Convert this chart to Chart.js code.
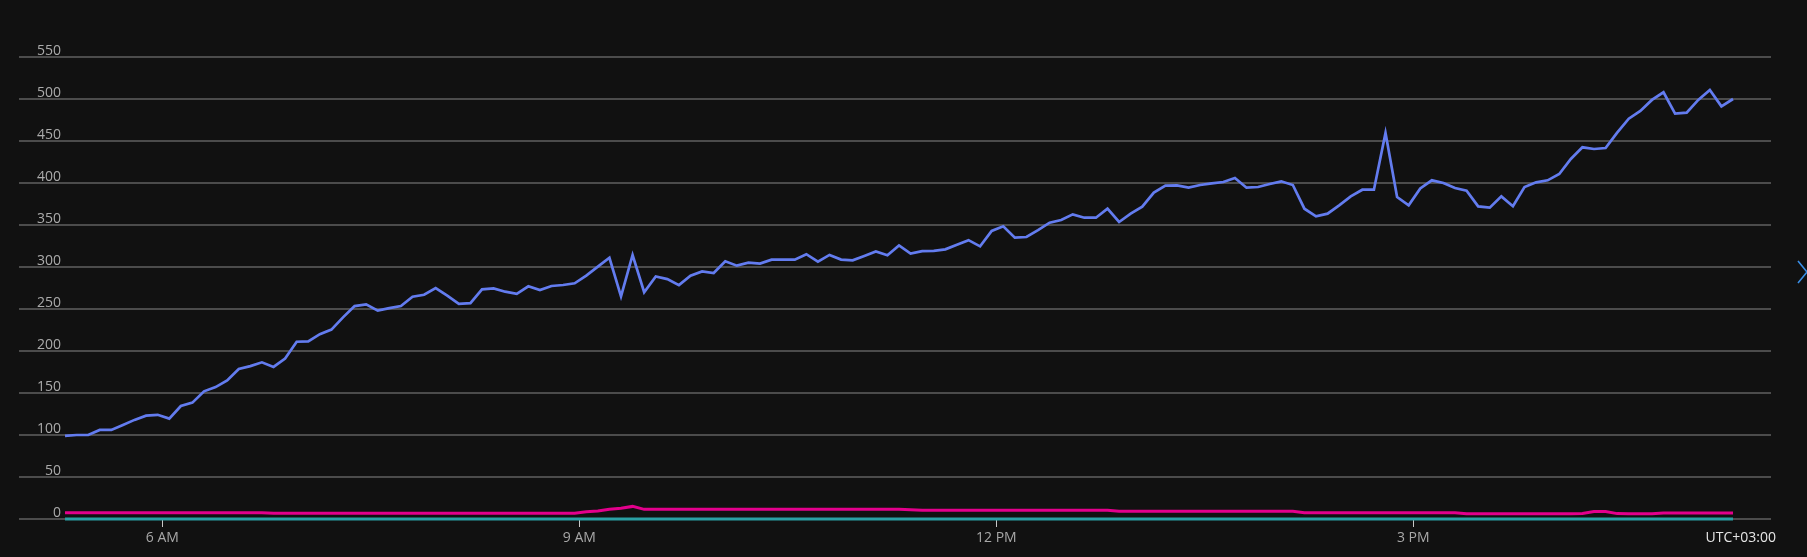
<!DOCTYPE html>
<html>
<head>
<meta charset="utf-8">
<script src="https://cdn.jsdelivr.net/npm/chart.js@4/dist/chart.umd.min.js"></script>
<style>
  html, body { margin: 0; padding: 0; background: #111111; }
  #wrap { position: relative; width: 1807px; height: 557px; background: #111111; overflow: hidden; }
  #c { position: absolute; left: 0; top: 0; }
  #tz { position: absolute; right: 31px; top: 527px; font-family: "Open Sans", "Noto Sans", sans-serif; font-size: 14px; line-height: 20px; color: #e6e6e6; }
  #chev { position: absolute; left: 1795px; top: 258px; }
</style>
</head>
<body>
<div id="wrap">
  <canvas id="c" width="1807" height="557"></canvas>
  <div id="tz">UTC+03:00</div>
  <svg id="chev" width="12" height="28" viewBox="0 0 12 28"><polyline points="3,3 12,14 3,25" fill="none" stroke="#3a8ee6" stroke-width="1.6"/></svg>
</div>
<script>
// Time grid: first sample at 05:18, one sample every 5 minutes (minutes since midnight)
const startMinute = 318;
const stepMinutes = 5;

// Series values
const seriesBlue = [
  99, 100, 100, 106, 106, 112, 118, 123, 124, 119.5,
  134.5, 138.5, 152, 157, 165, 178.6, 182, 186.5, 181, 191,
  211, 211.5, 220, 225.5, 240, 253.5, 255.6, 248, 251, 253.6,
  264.7, 267, 275, 266, 256, 257, 273.4, 274.6, 270.6, 268,
  277, 272.6, 277.4, 278.6, 280.6, 289.7, 300.4, 311, 265, 314.3,
  270, 288.8, 285.6, 278.4, 289.6, 294.8, 292.8, 306.8, 301.6, 305.2,
  304, 308.8, 308.8, 308.8, 315.2, 306.4, 314.4, 308.8, 308, 313.2,
  318.4, 314, 325.6, 316, 318.8, 319.2, 321, 326.6, 332, 324.6,
  342.9, 348.4, 335, 335.7, 344, 352.8, 356, 362.7, 358.7, 358.7,
  369.5, 353.6, 363.5, 371.8, 388.5, 396.8, 397.2, 394.5, 397.6, 399.6,
  401.2, 406, 394.4, 395.2, 398.8, 402, 397.6, 369.4, 360.3, 363.5,
  373.4, 384.1, 392, 392, 459.6, 383.3, 373.4, 393.6, 403.2, 400,
  394, 390.9, 372.2, 370.6, 384.1, 372.4, 395.2, 400.8, 403.2, 410.7,
  428.6, 442.5, 440.5, 441.7, 460, 476.6, 485.8, 498.9, 508, 482.6,
  483.8, 498.9, 510.8, 491.3, 500
];
const seriesPink = [
  7.5, 7.5, 7.5, 7.5, 7.5, 7.5, 7.5, 7.5, 7.5, 7.5,
  7.5, 7.5, 7.5, 7.5, 7.5, 7.5, 7.5, 7.5, 6.8, 6.8,
  6.8, 6.8, 6.8, 6.8, 6.8, 6.8, 6.8, 6.8, 6.8, 6.8,
  6.8, 6.8, 6.8, 6.8, 6.8, 6.8, 6.8, 6.8, 6.8, 6.8,
  6.8, 6.8, 6.8, 6.8, 6.8, 8.7, 9.5, 11.5, 12.7, 15,
  11.5, 11.5, 11.5, 11.5, 11.5, 11.5, 11.5, 11.5, 11.5, 11.5,
  11.5, 11.5, 11.5, 11.5, 11.5, 11.5, 11.5, 11.5, 11.5, 11.5,
  11.5, 11.5, 11.5, 11, 10.4, 10.4, 10.4, 10.4, 10.4, 10.4,
  10.4, 10.4, 10.4, 10.4, 10.4, 10.4, 10.4, 10.4, 10.4, 10.4,
  10.4, 9.1, 9.1, 9.1, 9.1, 9.1, 9.1, 9.1, 9.1, 9.1,
  9.1, 9.1, 9.1, 9.1, 9.1, 9.1, 9.1, 7.5, 7.5, 7.5,
  7.5, 7.5, 7.5, 7.5, 7.5, 7.5, 7.5, 7.5, 7.5, 7.5,
  7.5, 6.3, 6.3, 6.3, 6.3, 6.3, 6.3, 6.3, 6.3, 6.3,
  6.3, 6.5, 9, 8.8, 6.4, 6.3, 6.3, 6.3, 7, 7.2,
  7.2, 7.2, 7.2, 7.2, 7.2
];
const seriesTeal = [
  0,0,0,0,0,0,0,0,0,0, 0,0,0,0,0,0,0,0,0,0,
  0,0,0,0,0,0,0,0,0,0, 0,0,0,0,0,0,0,0,0,0,
  0,0,0,0,0,0,0,0,0,0, 0,0,0,0,0,0,0,0,0,0,
  0,0,0,0,0,0,0,0,0,0, 0,0,0,0,0,0,0,0,0,0,
  0,0,0,0,0,0,0,0,0,0, 0,0,0,0,0,0,0,0,0,0,
  0,0,0,0,0,0,0,0,0,0, 0,0,0,0,0,0,0,0,0,0,
  0,0,0,0,0,0,0,0,0,0, 0,0,0,0,0,0,0,0,0,0,
  0,0,0,0,0
];

// X axis tick positions (minutes since midnight) and their labels
const xTickMinutes = [360, 540, 720, 900];
const xTickLabels = ['6 AM', '9 AM', '12 PM', '3 PM'];
const xMin = 316.7;
const xMax = 1054.4;

// Y axis
const yMin = 0;
const yMax = 550;
const yStep = 50;

const times = seriesBlue.map((_, i) => startMinute + i * stepMinutes);
const toPoints = arr => arr.map((v, i) => ({ x: times[i], y: v }));

const FONT = '"Open Sans", "Noto Sans", sans-serif';

new Chart(document.getElementById('c'), {
  type: 'line',
  data: {
    datasets: [
      { data: toPoints(seriesBlue), borderColor: '#637cef', borderWidth: 2.7, clip: false },
      { data: toPoints(seriesPink), borderColor: '#e3008c', borderWidth: 3, clip: false },
      { data: toPoints(seriesTeal), borderColor: '#2aa0a4', borderWidth: 3, clip: false }
    ]
  },
  options: {
    responsive: false,
    animation: false,
    devicePixelRatio: 1,
    layout: { padding: { left: 0, right: 36, top: 57, bottom: 0 } },
    elements: {
      line: { tension: 0, fill: false, borderJoinStyle: 'miter', borderCapStyle: 'butt' },
      point: { radius: 0, hoverRadius: 0 }
    },
    plugins: { legend: { display: false }, tooltip: { enabled: false } },
    scales: {
      x: {
        type: 'linear',
        position: 'bottom',
        min: xMin,
        max: xMax,
        afterBuildTicks: s => { s.ticks = xTickMinutes.map(v => ({ value: v })); },
        afterFit: s => { s.height = 38; },
        ticks: {
          autoSkip: false,
          maxRotation: 0,
          padding: 3,
          color: '#a8a8a8',
          font: { family: FONT, size: 14 },
          callback: v => xTickLabels[xTickMinutes.indexOf(v)]
        },
        grid: { drawOnChartArea: false, drawTicks: true, tickLength: 8, color: '#c8c8c8', lineWidth: 1 },
        border: { display: false }
      },
      y: {
        type: 'linear',
        position: 'left',
        min: yMin,
        max: yMax,
        afterFit: s => { s.width = 62; },
        ticks: {
          stepSize: yStep,
          padding: -42,
          crossAlign: 'near',
          labelOffset: -6,
          color: '#ababab',
          font: { family: FONT, size: 14 }
        },
        grid: { color: '#4c4c4c', lineWidth: 2, drawTicks: true, tickLength: 43 },
        border: { display: false }
      }
    }
  }
});
</script>
</body>
</html>
